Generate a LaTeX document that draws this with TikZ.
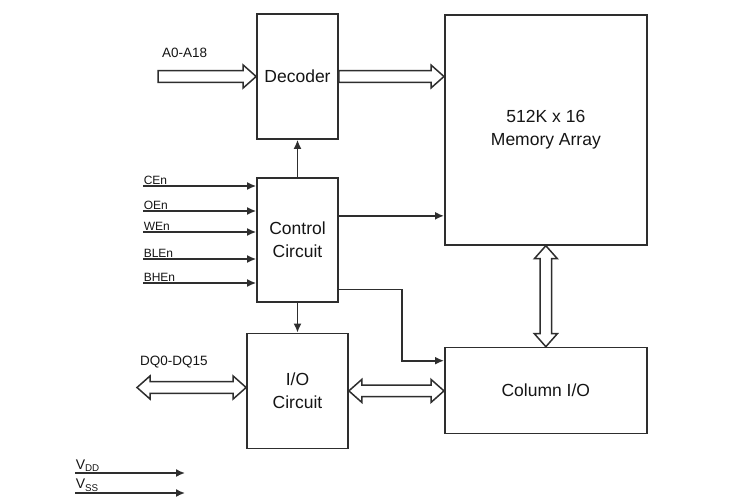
\documentclass[tikz,border=0pt]{standalone}
\usepackage{fontspec}
\setmainfont{Liberation Sans}
\usetikzlibrary{arrows.meta, positioning, calc}

\definecolor{lnclr}{HTML}{2E2E2E}
\definecolor{txclr}{HTML}{151515}

% hollow bus arrows
\newcommand{\busw}{5.8pt}
\newcommand{\bushw}{11.5pt}
\newcommand{\bushl}{13pt}
\newcommand{\busright}[2]{%
  \draw[bus] let \p1=(#1), \p2=(#2) in
    (\x1,\y1+\busw) -- (\x2-\bushl,\y1+\busw) -- (\x2-\bushl,\y1+\bushw)
    -- (\x2,\y1) -- (\x2-\bushl,\y1-\bushw) -- (\x2-\bushl,\y1-\busw)
    -- (\x1,\y1-\busw) -- cycle;}
\newcommand{\busboth}[2]{%
  \draw[bus] let \p1=(#1), \p2=(#2) in
    (\x1,\y1) -- (\x1+\bushl,\y1+\bushw) -- (\x1+\bushl,\y1+\busw)
    -- (\x2-\bushl,\y1+\busw) -- (\x2-\bushl,\y1+\bushw) -- (\x2,\y1)
    -- (\x2-\bushl,\y1-\bushw) -- (\x2-\bushl,\y1-\busw)
    -- (\x1+\bushl,\y1-\busw) -- (\x1+\bushl,\y1-\bushw) -- cycle;}
\newcommand{\busupdown}[2]{%
  \draw[bus] let \p1=(#1), \p2=(#2) in
    (\x1,\y1) -- (\x1+\bushw,\y1-\bushl) -- (\x1+\busw,\y1-\bushl)
    -- (\x1+\busw,\y2+\bushl) -- (\x1+\bushw,\y2+\bushl) -- (\x1,\y2)
    -- (\x1-\bushw,\y2+\bushl) -- (\x1-\busw,\y2+\bushl)
    -- (\x1-\busw,\y1-\bushl) -- (\x1-\bushw,\y1-\bushl) -- cycle;}

\begin{document}
\begin{tikzpicture}[
  x=1pt, y=1pt,
  blk/.style={rectangle, draw=lnclr, line width=1.7pt, fill=white,
              align=center, text=txclr,
              font=\fontsize{17.5}{23}\selectfont},
  lbl/.style={text=txclr, inner xsep=0pt, inner ysep=1pt,
              font=\fontsize{12}{14}\selectfont},
  sig/.style={-{Latex[length=9pt,width=8pt]}, line width=1.6pt, draw=lnclr},
  bus/.style={draw=lnclr, line width=1.5pt, fill=white, line join=miter}
]
  \useasboundingbox (0,0) rectangle (751,-500);

  \node[blk, minimum width=81pt, minimum height=125pt] (dec)
    at (297.5,-76.5) {Decoder};
  \node[blk, minimum width=81pt, minimum height=124pt,
        below=37pt of dec] (ctl) {Control\\Circuit};
  \node[blk, minimum width=101pt, minimum height=115pt,
        below=30pt of ctl] (io) {I/O\\Circuit};
  \node[blk, minimum width=202pt, minimum height=230pt,
        anchor=north west] (mem) at (444,-14) {512K x 16\\Memory Array};
  \node[blk, minimum width=202pt, minimum height=86pt,
        below=101pt of mem] (col) {Column I/O};

  % address and data buses
  \coordinate (addr) at (158,-76.5);
  \node[lbl, anchor=south west, font=\fontsize{13.5}{15}\selectfont]
    (addrlbl) at (162,-59) {A0-A18};
  \busright{addr}{dec.west}
  \busright{dec.east}{dec.east -| mem.west}

  \coordinate (dq) at (137,-387.5);
  \node[lbl, anchor=south west, font=\fontsize{13.5}{15}\selectfont]
    (dqlbl) at (140,-369) {DQ0-DQ15};
  \busboth{dq}{io.west}
  \busboth{io.east}{io.east -| col.west}
  \busupdown{mem.south}{col.north}

  % control inputs
  \foreach \yy/\sname [count=\i] in
      {186/CEn, 211/OEn, 232/WEn, 259/BLEn, 283/BHEn}{
    \coordinate (s\i) at (143,-\yy);
    \draw[sig] (s\i) -- (s\i -| ctl.west)
      node[lbl, pos=0, anchor=south west] {\sname};
  }

  \draw[sig] (ctl.north) -- (dec.south);
  \draw[sig] (ctl.south) -- (io.north);

  \coordinate (cm) at ($(ctl.north east)+(0,-39)$);
  \draw[sig] (cm) -- (cm -| mem.west);
  \coordinate (cc) at ($(ctl.south east)+(0,13)$);
  \draw[sig] (cc) -- ++(63,0) |- ($(col.north west)+(0,-14)$);

  % supplies
  \coordinate (vdd) at (75,-473);
  \coordinate (vddend) at (185,-473);
  \coordinate (vss) at (75,-493);
  \coordinate (vssend) at (185,-493);
  \draw[sig] (vdd) -- (vddend)
    node[lbl, pos=0, anchor=south west,
         font=\fontsize{14}{16}\selectfont] {V\textsubscript{DD}};
  \draw[sig] (vss) -- (vssend)
    node[lbl, pos=0, anchor=south west,
         font=\fontsize{14}{16}\selectfont] {V\textsubscript{SS}};
\end{tikzpicture}
\end{document}
